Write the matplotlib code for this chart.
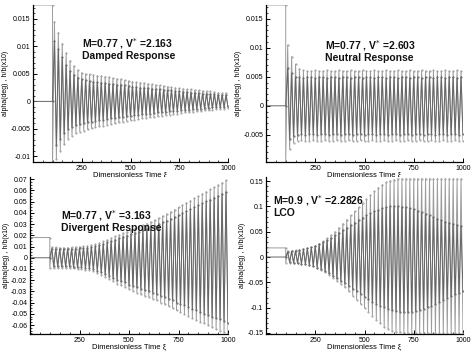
import numpy as np
import matplotlib
matplotlib.use("Agg")
import matplotlib.pyplot as plt
from matplotlib.ticker import MultipleLocator, FuncFormatter

plt.rcParams['font.family'] = ['Liberation Sans', 'DejaVu Sans']

# ---------------- data (peak values) ----------------
t_start = 100          # release time of the initial disturbance
half_period = 10       # spacing of successive peaks (time units)

# Damped response (M=0.77, V*=2.163)
damped_h0 = 0.0175
damped_h_neg = [-0.012, -0.0105, -0.009, -0.0078, -0.0068, -0.0062, -0.0058, -0.0055, -0.0053, -0.0051,
                -0.0049, -0.0047, -0.0045, -0.0044, -0.0042, -0.0041, -0.004, -0.0038, -0.0037, -0.0035,
                -0.0034, -0.0033, -0.0032, -0.0031, -0.003, -0.0029, -0.0028, -0.0027, -0.0026, -0.0025,
                -0.0024, -0.0023, -0.0022, -0.0021, -0.002, -0.002, -0.0019, -0.0018, -0.0017, -0.0016,
                -0.0016, -0.0015, -0.0014, -0.0013, -0.0013, -0.0012]
damped_h_pos = [0.0145, 0.0125, 0.0105, 0.0088, 0.0074, 0.0064, 0.0057, 0.0052, 0.005, 0.0049, 0.0048,
                0.0047, 0.0046, 0.0045, 0.0044, 0.0042, 0.0041, 0.004, 0.0038, 0.0037, 0.0036, 0.0035,
                0.0034, 0.0033, 0.0032, 0.0031, 0.003, 0.0029, 0.0028, 0.0027, 0.0026, 0.0025, 0.0024,
                0.0023, 0.0022, 0.0022, 0.0021, 0.002, 0.0019, 0.0018, 0.0018, 0.0017, 0.0016, 0.0015, 0.0015]
damped_a_neg = [0, -0.008, -0.0068, -0.0058, -0.005, -0.0046, -0.0043, -0.0041, -0.004, -0.0038, -0.0037,
                -0.0035, -0.0034, -0.0033, -0.0032, -0.0031, -0.003, -0.0029, -0.0028, -0.0027, -0.0026,
                -0.0025, -0.0024, -0.0023, -0.0023, -0.0022, -0.0021, -0.002, -0.002, -0.0019, -0.0018,
                -0.0017, -0.0017, -0.0016, -0.0015, -0.0015, -0.0014, -0.0013, -0.0013, -0.0012, -0.0012,
                -0.0011, -0.0011, -0.001, -0.001, -0.0009]
damped_a_pos = [0.011, 0.0095, 0.008, 0.0066, 0.0055, 0.0048, 0.0043, 0.004, 0.0038, 0.0037, 0.0036,
                0.0035, 0.0034, 0.0033, 0.0032, 0.0031, 0.003, 0.003, 0.0029, 0.0028, 0.0027, 0.0026,
                0.0025, 0.0025, 0.0024, 0.0023, 0.0022, 0.0022, 0.0021, 0.002, 0.002, 0.0019, 0.0018,
                0.0017, 0.0017, 0.0016, 0.0016, 0.0015, 0.0014, 0.0014, 0.0013, 0.0013, 0.0012, 0.0011, 0.0011]

# Neutral response (M=0.77, V*=2.603)
neutral_h0 = 0.0174
neutral_h_neg = [-0.0098, -0.0075, -0.0064, -0.006, -0.0059, -0.006, -0.006, -0.0059, -0.006, -0.006,
                 -0.0059, -0.006, -0.006, -0.0059, -0.006, -0.006, -0.0059, -0.006, -0.006, -0.0059,
                 -0.006, -0.006, -0.0059, -0.006, -0.006, -0.0059, -0.006, -0.006, -0.0059, -0.006,
                 -0.006, -0.0059, -0.006, -0.006, -0.0059, -0.006, -0.006, -0.0059, -0.006, -0.006,
                 -0.0059, -0.006, -0.006, -0.0059, -0.006, -0.006]
neutral_h_pos = [0.0105, 0.0085, 0.0072, 0.0064, 0.0061, 0.006, 0.006, 0.0061, 0.006, 0.006, 0.0061,
                 0.006, 0.006, 0.0061, 0.006, 0.006, 0.0061, 0.006, 0.006, 0.0061, 0.006, 0.006, 0.0061,
                 0.006, 0.006, 0.0061, 0.006, 0.006, 0.0061, 0.006, 0.006, 0.0061, 0.006, 0.006, 0.0061,
                 0.006, 0.006, 0.0061, 0.006, 0.006, 0.0061, 0.006, 0.006, 0.0061, 0.006]
neutral_a_neg = [0, -0.0058, -0.0052, -0.005, -0.0048, -0.005, -0.0049, -0.0048, -0.005, -0.0049,
                 -0.0048, -0.005, -0.0049, -0.0048, -0.005, -0.0049, -0.0048, -0.005, -0.0049, -0.0048,
                 -0.005, -0.0049, -0.0048, -0.005, -0.0049, -0.0048, -0.005, -0.0049, -0.0048, -0.005,
                 -0.0049, -0.0048, -0.005, -0.0049, -0.0048, -0.005, -0.0049, -0.0048, -0.005, -0.0049,
                 -0.0048, -0.005, -0.0049, -0.0048, -0.005, -0.0049]
neutral_a_pos = [0.0065, 0.0056, 0.005, 0.0049, 0.0048, 0.005, 0.0049, 0.0048, 0.005, 0.0049, 0.0048,
                 0.005, 0.0049, 0.0048, 0.005, 0.0049, 0.0048, 0.005, 0.0049, 0.0048, 0.005, 0.0049,
                 0.0048, 0.005, 0.0049, 0.0048, 0.005, 0.0049, 0.0048, 0.005, 0.0049, 0.0048, 0.005,
                 0.0049, 0.0048, 0.005, 0.0049, 0.0048, 0.005, 0.0049, 0.0048, 0.005, 0.0049, 0.0048, 0.005]

# Divergent response (M=0.77, V*=3.163)
diverg_h0 = 0.018
diverg_h_neg = [-0.009, -0.009, -0.009, -0.009, -0.0091, -0.0092, -0.0095, -0.0098, -0.01, -0.0105,
                -0.011, -0.012, -0.0135, -0.015, -0.017, -0.019, -0.021, -0.023, -0.0245, -0.026,
                -0.028, -0.0295, -0.031, -0.0325, -0.034, -0.035, -0.0365, -0.038, -0.04, -0.0415,
                -0.043, -0.045, -0.047, -0.0485, -0.05, -0.052, -0.054, -0.0555, -0.057, -0.0585,
                -0.06, -0.062, -0.0635, -0.065, -0.0665, -0.068]
diverg_h_pos = [0.0095, 0.0092, 0.009, 0.009, 0.009, 0.0092, 0.0095, 0.0098, 0.0102, 0.0106, 0.0113,
                0.012, 0.013, 0.0145, 0.016, 0.0175, 0.019, 0.0205, 0.022, 0.0233, 0.0247, 0.026, 0.0275,
                0.029, 0.0305, 0.032, 0.0337, 0.0355, 0.0373, 0.039, 0.041, 0.043, 0.045, 0.047, 0.049,
                0.051, 0.053, 0.055, 0.057, 0.059, 0.061, 0.063, 0.065, 0.067, 0.069]
diverg_a_neg = [0, -0.0075, -0.0075, -0.0075, -0.0076, -0.0078, -0.008, -0.0083, -0.0086, -0.009,
                -0.0095, -0.0102, -0.0115, -0.013, -0.0145, -0.016, -0.018, -0.0195, -0.021, -0.022,
                -0.024, -0.025, -0.0265, -0.0275, -0.029, -0.03, -0.031, -0.0325, -0.034, -0.035,
                -0.0365, -0.038, -0.04, -0.041, -0.0425, -0.044, -0.046, -0.047, -0.0485, -0.05,
                -0.051, -0.053, -0.054, -0.055, -0.0565, -0.058]
diverg_a_pos = [0.008, 0.0078, 0.0077, 0.0077, 0.0077, 0.0078, 0.008, 0.0083, 0.0087, 0.009, 0.0096,
                0.0102, 0.011, 0.0123, 0.0136, 0.0149, 0.016, 0.0174, 0.0187, 0.0198, 0.021, 0.0221,
                0.0234, 0.0246, 0.026, 0.0272, 0.0286, 0.0302, 0.0317, 0.0332, 0.0348, 0.0365, 0.0383,
                0.04, 0.0417, 0.0434, 0.045, 0.0468, 0.0485, 0.0502, 0.0519, 0.0536, 0.0553, 0.057, 0.0587]

# LCO (M=0.9, V*=2.2826)
lco_h0 = 0.018
lco_h_neg = [-0.011, -0.011, -0.012, -0.012, -0.013, -0.014, -0.016, -0.018, -0.021, -0.025, -0.03,
             -0.035, -0.041, -0.047, -0.053, -0.06, -0.068, -0.076, -0.084, -0.092, -0.1, -0.108, -0.116,
             -0.124, -0.131, -0.138, -0.142, -0.146, -0.148, -0.149, -0.15, -0.15, -0.15, -0.15, -0.15,
             -0.15, -0.15, -0.15, -0.15, -0.15, -0.15, -0.15, -0.15, -0.15, -0.15, -0.15]
lco_h_pos = [0.012, 0.012, 0.013, 0.014, 0.015, 0.017, 0.019, 0.022, 0.026, 0.031, 0.037, 0.043, 0.05,
             0.058, 0.066, 0.074, 0.082, 0.09, 0.098, 0.106, 0.114, 0.122, 0.13, 0.137, 0.143, 0.148,
             0.151, 0.153, 0.155, 0.155, 0.155, 0.155, 0.155, 0.155, 0.155, 0.155, 0.155, 0.155, 0.155,
             0.155, 0.155, 0.155, 0.155, 0.155, 0.155]
lco_a_neg = [0, -0.01, -0.011, -0.012, -0.013, -0.014, -0.016, -0.018, -0.021, -0.024, -0.028, -0.032,
             -0.037, -0.042, -0.047, -0.052, -0.057, -0.063, -0.068, -0.073, -0.078, -0.083, -0.088,
             -0.092, -0.096, -0.099, -0.102, -0.105, -0.107, -0.108, -0.109, -0.109, -0.108, -0.107,
             -0.105, -0.102, -0.099, -0.096, -0.092, -0.088, -0.084, -0.08, -0.077, -0.074, -0.071, -0.068]
lco_a_pos = [0.01, 0.011, 0.012, 0.013, 0.015, 0.017, 0.019, 0.022, 0.025, 0.029, 0.033, 0.038, 0.043,
             0.048, 0.053, 0.058, 0.063, 0.068, 0.073, 0.078, 0.082, 0.086, 0.09, 0.093, 0.096, 0.098,
             0.1, 0.1, 0.1, 0.099, 0.098, 0.096, 0.094, 0.091, 0.088, 0.085, 0.082, 0.079, 0.076, 0.073,
             0.07, 0.068, 0.066, 0.064, 0.062]

titles = ["M=0.77 , V$^{*}$ =2.163\nDamped Response",
          "M=0.77 , V$^{*}$ =2.603\nNeutral Response",
          "M=0.77 , V$^{*}$ =3.163\nDivergent Response",
          "M=0.9 , V$^{*}$ =2.2826\nLCO"]
x_ticks = [250, 500, 750, 1000]
y_ticks = [[0.015, 0.01, 0.005, 0, -0.005, -0.01],
           [0.015, 0.01, 0.005, 0, -0.005],
           [0.07, 0.06, 0.05, 0.04, 0.03, 0.02, 0.01, 0, -0.01, -0.02, -0.03, -0.04, -0.05, -0.06],
           [0.15, 0.1, 0.05, 0, -0.05, -0.1, -0.15]]
y_limits = [(-0.011, 0.0175), (-0.0097, 0.0174), (-0.068, 0.072), (-0.152, 0.158)]
y_minor = [0.001, 0.001, 0.0025, 0.01]

panels = [
    (damped_h0, damped_h_neg, damped_h_pos, damped_a_neg, damped_a_pos),
    (neutral_h0, neutral_h_neg, neutral_h_pos, neutral_a_neg, neutral_a_pos),
    (diverg_h0, diverg_h_neg, diverg_h_pos, diverg_a_neg, diverg_a_pos),
    (lco_h0, lco_h_neg, lco_h_pos, lco_a_neg, lco_a_pos),
]

# ---------------- layout ----------------
W, H = 474, 353
boxes = [(33, 228, 5, 162), (266, 463, 5, 162), (30, 228, 177, 334), (266, 463, 177, 334)]
text_pos = [(0.25, 0.80), (0.30, 0.79), (0.155, 0.80), (0.035, 0.90)]

fig = plt.figure(figsize=(W / 100, H / 100), dpi=100)
light = '#9c9c9c'
dark = '#666666'


def interleave(first, second):
    out = []
    for i in range(max(len(first), len(second))):
        if i < len(first):
            out.append(first[i])
        if i < len(second):
            out.append(second[i])
    return out


for i, (h0, h_neg, h_pos, a_neg, a_pos) in enumerate(panels):
    x0, x1, y0, y1 = boxes[i]
    ax = fig.add_axes([x0 / W, 1 - y1 / H, (x1 - x0) / W, (y1 - y0) / H])
    # h/b series (light): initial displacement, release, oscillation
    hv = interleave(h_neg, h_pos)
    ht = t_start + half_period * np.arange(len(hv))
    ax.plot(np.r_[0, t_start, ht], np.r_[h0, h0, hv], color=light, lw=0.7,
            marker='.', ms=1.0)
    # alpha series (dark)
    av = interleave(a_neg, a_pos)
    at = t_start + half_period * np.arange(len(av))
    ax.plot(np.r_[0, at], np.r_[0, av], color=dark, lw=0.7, marker='.', ms=1.0)

    ax.set_xlim(0, 1000)
    ax.set_ylim(*y_limits[i])
    ax.set_xticks(x_ticks)
    ax.xaxis.set_minor_locator(MultipleLocator(50))
    ax.set_yticks(y_ticks[i])
    ax.yaxis.set_minor_locator(MultipleLocator(y_minor[i]))
    ax.yaxis.set_major_formatter(FuncFormatter(lambda v, p: '%g' % v))
    ax.tick_params(which='major', direction='in', length=3, width=0.7, labelsize=5, pad=2)
    ax.tick_params(which='minor', direction='in', length=1.5, width=0.5)
    for s in ['top', 'right']:
        ax.spines[s].set_visible(False)
    for s in ['left', 'bottom']:
        ax.spines[s].set_linewidth(0.9)
    ax.set_xlabel('Dimensionless Time ξ', fontsize=5.5, labelpad=0)
    ax.set_ylabel('alpha(deg) , h/b(x10)', fontsize=5, labelpad=1)
    ax.text(text_pos[i][0], text_pos[i][1], titles[i], transform=ax.transAxes,
            fontsize=7.5, fontweight='bold', va='top', ha='left', linespacing=1.0,
            color='#111111')

fig.savefig('out.png', dpi=100)
